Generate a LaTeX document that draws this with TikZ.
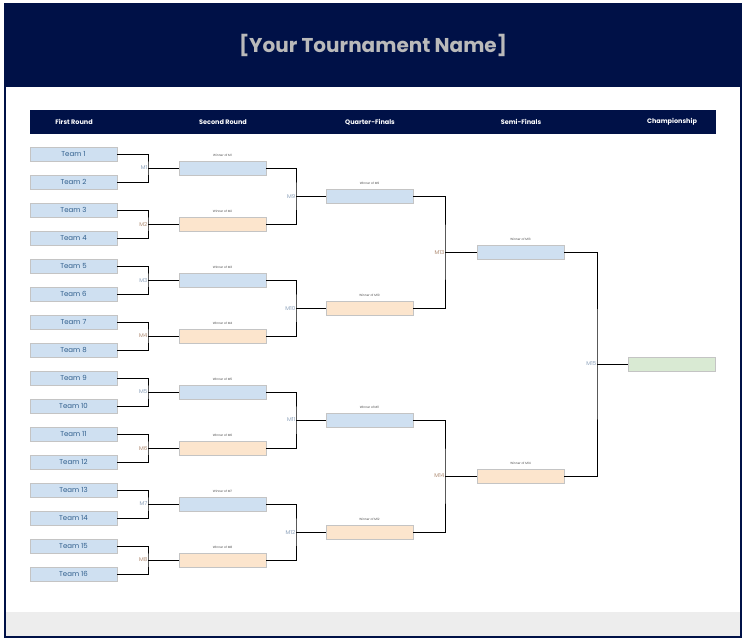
\documentclass[tikz,border=0pt]{standalone}
\usepackage{fontspec}
\setmainfont{Poppins}
\definecolor{navy}{HTML}{001147}
\definecolor{bfill}{HTML}{CFE0F1}
\definecolor{ofill}{HTML}{FCE5CD}
\definecolor{gfill}{HTML}{D9EAD3}
\definecolor{bord}{HTML}{C4C4C4}
\definecolor{tblue}{HTML}{2F5E8C}
\definecolor{mblue}{HTML}{8EA3BC}
\definecolor{mbrown}{HTML}{B08D74}
\begin{document}
\begin{tikzpicture}[x=1pt,y=-1pt,
 box/.style={draw=bord,line width=0.8pt,minimum width=87pt,minimum height=14pt,inner sep=0pt,anchor=center},
 bb/.style={box,fill=bfill}, ob/.style={box,fill=ofill},
 team/.style={bb,font=\fontsize{7}{7}\selectfont,text=tblue},
 win/.style={font=\fontsize{3}{3}\selectfont,text=black!70},
 ml/.style={font=\fontsize{5.5}{5.5}\selectfont,anchor=east,inner sep=0.5pt},
 ln/.style={line width=0.8pt},
 hd/.style={font=\bfseries\fontsize{6.5}{6.5}\selectfont,text=white}]
\useasboundingbox (0,0) rectangle (748,642);
\fill[white] (0,0) rectangle (748,642);
\draw[navy,line width=2pt] (5,4) rectangle (741,637);
\fill[navy] (5,4) rectangle (741,87);
\fill[black!7] (6,612) rectangle (740,636);
\node[font=\bfseries\fontsize{20}{20}\selectfont,text=black!27] (title) at (373,45) {[Your Tournament Name]};
\fill[navy] (30,110) rectangle (716,134);
\node[hd] (h1) at (74,122) {First Round};
\node[hd] (h2) at (223,122) {Second Round};
\node[hd] (h3) at (370,122) {Quarter-Finals};
\node[hd] (h4) at (521,122) {Semi-Finals};
\node[hd] (h5) at (672,122) {Championship};
% teams
\foreach \k in {1,...,16} \node[team] (t\k) at (73.5,{154+28*(\k-1)}) {Team \k};
% round 1 matches
\foreach \i in {1,...,8}{
 \pgfmathtruncatemacro\a{2*\i-1}\pgfmathtruncatemacro\b{2*\i}
 \pgfmathsetmacro\y{168+56*(\i-1)}
 \pgfmathtruncatemacro\odd{mod(\i,2)}
 \coordinate (m\i) at (148,\y);
 \ifnum\odd=1 \node[bb] (w\i) at (222.5,\y) {};\def\mc{mblue}\else \node[ob] (w\i) at (222.5,\y) {};\def\mc{mbrown}\fi
 \node[win,above=0.5pt] (wl\i) at (w\i.north) {Winner of M\i};
 \node[ml,text=\mc] (ml\i) at (m\i) {M\i};
 \draw[ln] (t\a.east) -| (m\i) |- (t\b.east);
 \draw[ln] (m\i) -- (w\i.west);
}
% round 2
\foreach \j/\p/\q in {9/1/2,10/3/4,11/5/6,12/7/8}{
 \pgfmathsetmacro\y{196+112*(\j-9)}
 \pgfmathtruncatemacro\odd{mod(\j,2)}
 \coordinate (m\j) at (296,\y);
 \ifnum\odd=1 \node[bb] (w\j) at (369.5,\y) {};\def\mc{mblue}\else \node[ob] (w\j) at (369.5,\y) {};\def\mc{mbrown}\fi
 \node[win,above=0.5pt] (wl\j) at (w\j.north) {Winner of M\j};
 \node[ml,text=mblue] (ml\j) at (m\j) {M\j};
 \draw[ln] (w\p.east) -| (m\j) |- (w\q.east);
 \draw[ln] (m\j) -- (w\j.west);
}
% semis
\coordinate (m13) at (445,252);
\coordinate (m14) at (445,476);
\node[bb] (w13) at (520.5,252) {};
\node[ob] (w14) at (520.5,476) {};
\node[win,above=0.5pt] (wl13) at (w13.north) {Winner of M13};
\node[win,above=0.5pt] (wl14) at (w14.north) {Winner of M14};
\node[ml,text=mbrown] (ml13) at (m13) {M13};
\node[ml,text=mbrown] (ml14) at (m14) {M14};
\draw[ln] (w9.east) -| (m13) |- (w10.east);
\draw[ln] (m13) -- (w13.west);
\draw[ln] (w11.east) -| (m14) |- (w12.east);
\draw[ln] (m14) -- (w14.west);
% final
\coordinate (m15) at (597,364);
\node[box,fill=gfill] (ch) at (672,364) {};
\node[ml,text=mblue] (ml15) at (m15) {M15};
\draw[ln] (w13.east) -| (m15) |- (w14.east);
\draw[ln] (m15) -- (ch.west);
\end{tikzpicture}
\end{document}
